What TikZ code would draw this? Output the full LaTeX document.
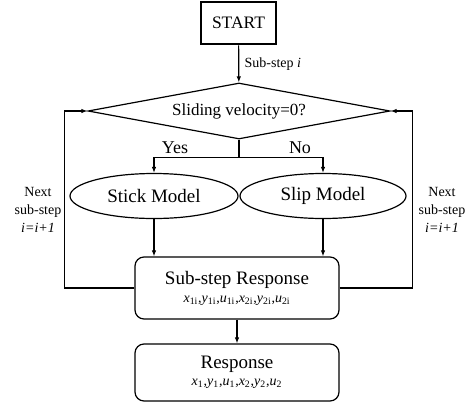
\documentclass[tikz,border=0pt]{standalone}
\usepackage{fontspec}
\setmainfont{Liberation Serif}
\usetikzlibrary{shapes.geometric,arrows.meta}

\newcommand{\subv}[2]{\textit{#1}\textsubscript{#2}\kern0.3pt}

\begin{document}
\begin{tikzpicture}[x=1pt,y=-1pt,line width=1.2pt,
  arr/.style={-{Latex[length=6pt,width=4.5pt]}},
  resbox/.style={draw,rounded corners=9pt,minimum width=204pt,align=center,inner sep=0pt},
  model/.style={draw,ellipse,minimum height=45pt,inner sep=0pt,font=\fontsize{19}{22}\selectfont},
  small/.style={font=\fontsize{14}{18}\selectfont}]
\useasboundingbox (0,0) rectangle (474,402);

\node[draw,line width=2.6pt,minimum width=75pt,minimum height=42pt,inner sep=0pt,
  font=\fontsize{17.5}{20}\selectfont] (start) at (238.5,23) {START};
\node[draw,diamond,aspect=5.4,minimum width=302pt,minimum height=56pt,inner sep=0pt,
  font=\fontsize{17}{20}\selectfont] (dec) at (239,111) {Sliding velocity=0?};
\node[model,minimum width=168pt] (stick) at (154,196) {Stick Model};
\node[model,minimum width=166pt] (slip) at (323,196) {Slip Model};
\node[resbox,minimum height=62pt] (sub) at (237,288)
  {{\fontsize{19}{22}\selectfont Sub-step Response}\\[6pt]
   {\fontsize{14}{16}\selectfont \subv{x}{1i},\subv{y}{1i},\subv{u}{1i},\subv{x}{2i},\subv{y}{2i},\subv{u}{2i}}};
\node[resbox,minimum height=57pt] (resp) at (237,372.5)
  {{\fontsize{19}{22}\selectfont Response}\\[5pt]
   {\fontsize{14}{16}\selectfont \subv{x}{1},\subv{y}{1},\subv{u}{1},\subv{x}{2},\subv{y}{2},\subv{u}{2}}};

\draw[arr] (start) -- node[right,small,xshift=2pt] {Sub-step \textit{i}} (dec);
\draw[arr] (dec.south) -- ++(0,18) coordinate (split) -| (stick.north);
\draw[arr] (split) -| (slip.north);
\node[font=\fontsize{18}{20}\selectfont] (yes) at (175,148) {Yes};
\node[font=\fontsize{18}{20}\selectfont] (no) at (300,148) {No};

\foreach \m in {stick,slip} {
\draw[arr] (\m.south) -- (\m.south |- sub.north);
}
\draw[arr] (sub.south) -- (resp.north);

% loop back to the next sub-step
\draw[arr] (sub.west) -- ++(-70,0) |- (dec.west);
\draw[arr] (sub.east) -- ++(73,0) |- (dec.east);
\foreach \x/\n in {38/nextl,442/nextr} {
\node[small,align=center] (\n) at (\x,210) {Next\\sub-step\\\textit{i=i+1}};
}
\end{tikzpicture}
\end{document}
